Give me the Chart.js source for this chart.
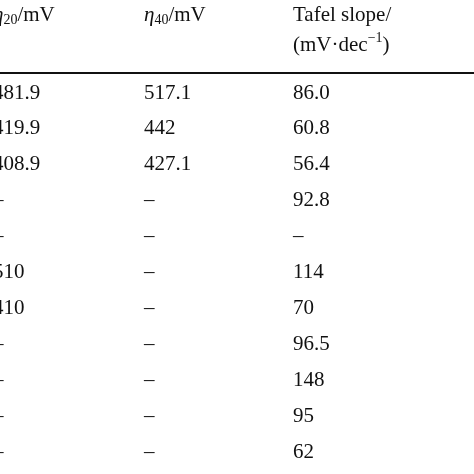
<!DOCTYPE html>
<html>
<head>
<meta charset="utf-8">
<script src="https://cdn.jsdelivr.net/npm/chart.js@4/dist/chart.umd.min.js"></script>
<style>
  html, body { margin: 0; padding: 0; background: #fff; }
</style>
</head>
<body>
<canvas id="tableChart" width="474" height="474"></canvas>
<script>
// Table contents, column by column
const eta20 = ['481.9', '419.9', '408.9', '–', '–', '510', '410', '–', '–', '–', '–'];
const eta40 = ['517.1', '442', '427.1', '–', '–', '–', '–', '–', '–', '–', '–'];
const tafel = ['86.0', '60.8', '56.4', '92.8', '–', '114', '70', '96.5', '148', '95', '62'];

// Layout in "table units" (mapped through the chart scales)
const colX = [-7, 144, 293];
const firstRowY = 93;
const rowStep = 35.9;
const ruleY = 73;

const font = '21px "Liberation Serif", "DejaVu Serif", serif';
const smallFont = '14px "Liberation Serif", "DejaVu Serif", serif';

// Draws text cells and the header rule using the chart's x/y scales
const tablePlugin = {
  id: 'tablePlugin',
  afterDraw(chart) {
    const ctx = chart.ctx;
    const xs = chart.scales.x, ys = chart.scales.y;
    ctx.save();
    ctx.fillStyle = '#111';
    ctx.textBaseline = 'middle';
    ctx.textAlign = 'left';

    // header with subscripts / superscripts
    const drawParts = (x, y, parts) => {
      let px = xs.getPixelForValue(x);
      const py = ys.getPixelForValue(y);
      parts.forEach(p => {
        ctx.font = p.font;
        ctx.fillText(p.text, px, py + (p.dy || 0));
        px += ctx.measureText(p.text).width;
      });
    };
    const italic = 'italic ' + font;
    drawParts(colX[0], 15, [{ text: 'η', font: italic }, { text: '20', font: smallFont, dy: 5 }, { text: '/mV', font }]);
    drawParts(colX[1], 15, [{ text: 'η', font: italic }, { text: '40', font: smallFont, dy: 5 }, { text: '/mV', font }]);
    drawParts(colX[2], 15, [{ text: 'Tafel slope/', font }]);
    drawParts(colX[2], 45, [{ text: '(mV·dec', font }, { text: '−1', font: smallFont, dy: -7 }, { text: ')', font }]);

    // rule under header
    ctx.strokeStyle = '#111';
    ctx.lineWidth = 2;
    ctx.beginPath();
    ctx.moveTo(xs.getPixelForValue(0), ys.getPixelForValue(ruleY));
    ctx.lineTo(xs.getPixelForValue(474), ys.getPixelForValue(ruleY));
    ctx.stroke();

    // body cells
    ctx.font = font;
    [eta20, eta40, tafel].forEach((col, c) => {
      col.forEach((txt, r) => {
        ctx.fillText(txt, xs.getPixelForValue(colX[c]), ys.getPixelForValue(firstRowY + r * rowStep));
      });
    });
    ctx.restore();
  }
};

new Chart(document.getElementById('tableChart').getContext('2d'), {
  type: 'scatter',
  data: { datasets: [{ data: [], pointRadius: 0 }] },
  options: {
    responsive: false,
    animation: false,
    layout: { padding: 0 },
    plugins: { legend: { display: false }, tooltip: { enabled: false } },
    scales: {
      x: { type: 'linear', min: 0, max: 474, display: false },
      y: { type: 'linear', min: 0, max: 474, reverse: true, display: false }
    }
  },
  plugins: [tablePlugin]
});
</script>
</body>
</html>
